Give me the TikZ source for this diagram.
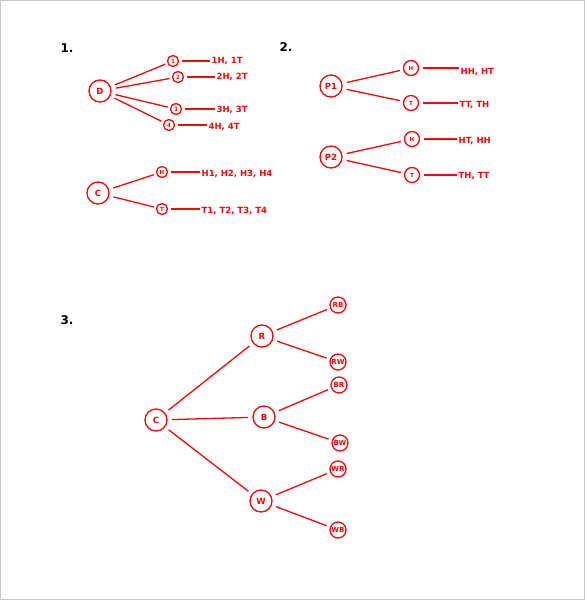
\documentclass[tikz,border=0pt]{standalone}
\usepackage{fontspec}
\setmainfont{DejaVu Sans}
\usepackage{tikz}
\usetikzlibrary{arrows.meta,calc,positioning}
\definecolor{TreeRed}{RGB}{240,10,10}
\definecolor{FrameGray}{RGB}{200,200,200}

\begin{document}
\begin{tikzpicture}[x=1pt,y=-1pt,line width=1.3pt,
  big/.style={circle,draw=TreeRed,minimum size=22pt,inner sep=0pt,outer sep=5pt,
    text=TreeRed,font=\fontsize{8.5}{9}\selectfont\bfseries},
  tiny/.style={circle,draw=TreeRed,minimum size=11pt,inner sep=0pt,outer sep=3pt,
    text=TreeRed,font=\fontsize{5.5}{6}\selectfont\bfseries},
  mid/.style={tiny,minimum size=15pt,outer sep=4pt},
  leaf/.style={circle,draw=TreeRed,minimum size=16pt,inner sep=0pt,outer sep=4pt,
    text=TreeRed,font=\fontsize{7}{7}\selectfont\bfseries},
  outcome/.style={anchor=west,inner sep=1pt,text=TreeRed,font=\fontsize{8.5}{10}\selectfont\bfseries},
  part/.style={font=\fontsize{12}{13}\selectfont\bfseries}]
  \fill[white] (0,0) rectangle (585,600);
  \draw[FrameGray,line width=0.8pt] (0.5,0.5) rectangle (584.5,599.5);
  \useasboundingbox (0,0) rectangle (585,600);

  % part 1
  \node[part] (n1) at (67,48) {1.};
  \node[big] (D) at (100,91) {D};
  \node[tiny] (d1) at (173,61) {1};
  \node[tiny] (d2) at (178,77) {2};
  \node[tiny] (d3) at (176,109) {3};
  \node[tiny] (d4) at (169,125) {4};
  \node[outcome] (o1) at (210,61) {1H, 1T};
  \node[outcome] (o2) at (215,77) {2H, 2T};
  \node[outcome] (o3) at (215,110) {3H, 3T};
  \node[outcome] (o4) at (207,127) {4H, 4T};
  \draw[TreeRed] (D) -- (d1);
  \draw[TreeRed] (D) -- (d2);
  \draw[TreeRed] (D) -- (d3);
  \draw[TreeRed] (D) -- (d4);
  \foreach \i in {1,...,4}
    \draw[TreeRed] (d\i) -- (d\i -| o\i.west);

  \node[big] (C1) at (98,193) {C};
  \node[tiny] (h1) at (162,172) {H};
  \node[tiny] (t1) at (162,209) {T};
  \node[outcome] (oh) at (200,174) {H1, H2, H3, H4};
  \node[outcome] (ot) at (200,211) {T1, T2, T3, T4};
  \draw[TreeRed] (C1) -- (h1);
  \draw[TreeRed] (C1) -- (t1);
  \draw[TreeRed] (h1) -- (h1 -| oh.west);
  \draw[TreeRed] (t1) -- (t1 -| ot.west);

  % part 2
  \node[part] (n2) at (286,47) {2.};
  \node[big] (P1) at (331,86) {P1};
  \node[mid] (p1h) at (411,68) {H};
  \node[mid] (p1t) at (411,103) {T};
  \node[outcome] (o5) at (459,72) {HH, HT};
  \node[outcome] (o6) at (458,105) {TT, TH};
  \node[big] (P2) at (331,157) {P2};
  \node[mid] (p2h) at (412,139) {H};
  \node[mid] (p2t) at (412,175) {T};
  \node[outcome] (o7) at (457,141) {HT, HH};
  \node[outcome] (o8) at (457,176) {TH, TT};
  \draw[TreeRed] (P1) -- (p1h);
  \draw[TreeRed] (P1) -- (p1t);
  \draw[TreeRed] (P2) -- (p2h);
  \draw[TreeRed] (P2) -- (p2t);
  \draw[TreeRed] (p1h) -- (p1h -| o5.west);
  \draw[TreeRed] (p1t) -- (p1t -| o6.west);
  \draw[TreeRed] (p2h) -- (p2h -| o7.west);
  \draw[TreeRed] (p2t) -- (p2t -| o8.west);

  % part 3
  \node[part] (n3) at (67,320) {3.};
  \node[big] (C) at (156,420) {C};
  \node[big] (R) at (262,336) {R};
  \node[big] (B) at (264,417) {B};
  \node[big] (W) at (261,501) {W};
  \node[leaf] (RB) at (338,305) {RB};
  \node[leaf] (RW) at (338,362) {RW};
  \node[leaf] (BR) at (339,385) {BR};
  \node[leaf] (BW) at (340,443) {BW};
  \node[leaf] (WR) at (338,469) {WR};
  \node[leaf] (WB) at (338,530) {WB};
  \foreach \a/\b in {C/R,C/B,C/W,R/RB,R/RW,B/BR,B/BW,W/WR,W/WB}
    \draw[TreeRed] (\a) -- (\b);
\end{tikzpicture}
\end{document}
